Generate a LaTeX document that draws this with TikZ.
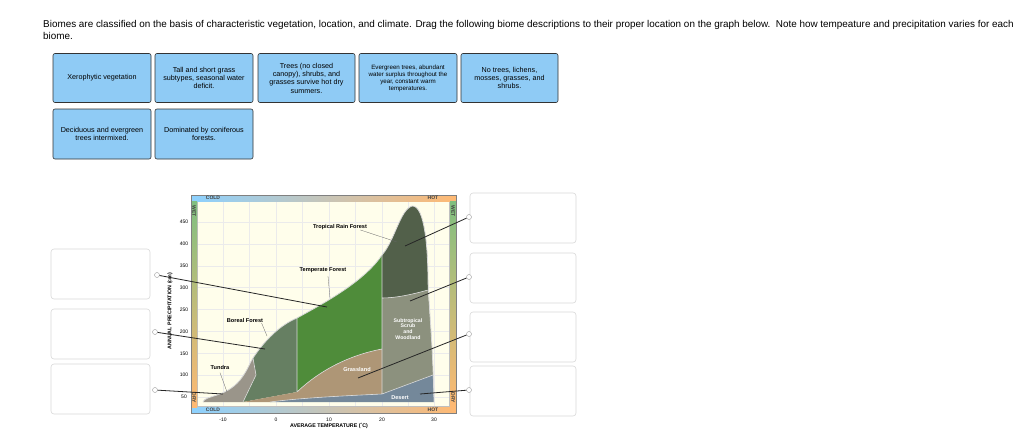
\documentclass[tikz,border=0pt]{standalone}
\usepackage{fontspec}
\setmainfont{Liberation Sans}
\usetikzlibrary{calc}
\begin{document}
\begin{tikzpicture}[x=1pt,y=-1pt,
 card/.style={draw=black!80,fill=cardblue,rounded corners=2pt,line width=0.6pt,align=center,font=\fontsize{7.2}{8.3}\selectfont,inner sep=1pt},
 drop/.style={draw=black!15,rounded corners=3pt,line width=0.6pt},
 pin/.style={draw=black!40,fill=white,circle,inner sep=0pt,minimum size=5pt},
 leader/.style={line width=0.8pt,draw=black!85},
 tick/.style={font=\fontsize{5}{6}\selectfont},
 flab/.style={font=\bfseries\fontsize{5}{6}\selectfont,black!75},
 blab/.style={font=\bfseries\fontsize{5.6}{6.5}\selectfont},
 thin/.style={draw=black!60,line width=0.3pt}]
\definecolor{cardblue}{HTML}{8FCBF5}
\definecolor{tun}{HTML}{9A958A}
\definecolor{bor}{HTML}{667F62}
\definecolor{tem}{HTML}{4F8C3A}
\definecolor{tro}{HTML}{52604A}
\definecolor{sub}{HTML}{8C917E}
\definecolor{gra}{HTML}{AE9676}
\definecolor{des}{HTML}{74889A}
\useasboundingbox (0,0) rectangle (1024,439);
\fill[white] (0,0) rectangle (1024,439);
\node[anchor=north west,align=left,font=\fontsize{9.9}{11.5}\selectfont,inner sep=0] (hdr) at (43,20.5) {Biomes are classified on the basis of characteristic vegetation, location, and climate. Drag the following biome descriptions to their proper location on the graph below.\ \ Note how tempeature and precipitation varies for each\\biome.};
% cards
\node[card,minimum width=98pt,minimum height=49pt] (c1) at (102,78) {Xerophytic vegetation};
\node[card,minimum width=98pt,minimum height=49pt] (c2) at (204,78) {Tall and short grass\\subtypes, seasonal water\\deficit.};
\node[card,minimum width=97pt,minimum height=49pt] (c3) at (306.5,78) {Trees (no closed\\canopy), shrubs, and\\grasses survive hot dry\\summers.};
\node[card,minimum width=98pt,minimum height=49pt,font=\fontsize{6.2}{7}\selectfont] (c4) at (408,78) {Evergreen trees, abundant\\water surplus throughout the\\year, constant warm\\temperatures.};
\node[card,minimum width=97pt,minimum height=49pt] (c5) at (509.5,78) {No trees, lichens,\\mosses, grasses, and\\shrubs.};
\node[card,minimum width=98pt,minimum height=50pt] (c6) at (102,134) {Deciduous and evergreen\\trees intermixed.};
\node[card,minimum width=98pt,minimum height=50pt] (c7) at (204,134) {Dominated by coniferous\\forests.};
% drop boxes
\draw[drop] (470,193) rectangle (576,243);
\draw[drop] (470,253) rectangle (576,303);
\draw[drop] (470,312) rectangle (576,362);
\draw[drop] (470,366) rectangle (576,416);
\draw[drop] (51,249) rectangle (150,299);
\draw[drop] (51,309) rectangle (150,359);
\draw[drop] (51,364) rectangle (150,414);
% frame
\fill[fill=black!25] (191,195) rectangle (456,413);
\shade[left color=blue!40!cyan!45, right color=orange!55] (191,195) rectangle (456,201);
\shade[left color=blue!40!cyan!45, right color=orange!55] (191,407) rectangle (456,413);
\shade[top color=green!50!black!50, bottom color=orange!55] (191,201) rectangle (197,407);
\shade[top color=green!50!black!50, bottom color=orange!55] (450,201) rectangle (456,407);
\draw[black!50,line width=0.4pt] (191,195) rectangle (456,413);
\fill[yellow!8] (198,202) rectangle (449,406);
\foreach \x in {223,249.5,276,302.5,329,355.5,382,408.5,434} \draw[black!8,line width=0.3pt] (\x,202)--(\x,406);
\foreach \y in {222,243.9,265.8,287.6,309.5,331.4,353.3,375.1,397} \draw[black!8,line width=0.3pt] (198,\y)--(449,\y);
% regions
\fill[tun] (203,402) .. controls (205,395) and (225,398) .. (240,380) .. controls (248,370) and (250,362) .. (253,358) -- (256,375) -- (243,402) -- cycle;
\fill[bor] (253,358) .. controls (265,340) and (280,325) .. (297,318) -- (297,392) -- (243,402) -- (256,375) -- cycle;
\fill[tem] (297,318) .. controls (330,300) and (365,280) .. (382,255) -- (382,349) .. controls (350,355) and (320,370) .. (297,392) -- cycle;
\fill[tro] (382,255) .. controls (395,240) and (400,210) .. (412,206) .. controls (425,205) and (428,250) .. (428,282) -- (428,290) .. controls (410,295) and (395,298) .. (382,298) -- cycle;
\fill[sub] (382,298) .. controls (395,298) and (410,295) .. (428,290) .. controls (430,320) and (433,350) .. (433,380) -- (382,394) -- cycle;
\fill[gra] (243,402) -- (297,392) .. controls (320,370) and (350,355) .. (382,349) -- (382,394) .. controls (340,396) and (300,398) .. (270,402) -- cycle;
\fill[des] (270,402) .. controls (300,398) and (340,396) .. (382,394) -- (433,375) -- (434,402) -- cycle;
\draw[white!85!black,line width=0.8pt] (203,402) .. controls (205,395) and (225,398) .. (240,380) .. controls (248,370) and (250,362) .. (253,358) .. controls (265,340) and (280,325) .. (297,318) .. controls (330,300) and (365,280) .. (382,255) .. controls (395,240) and (400,210) .. (412,206) .. controls (425,205) and (428,250) .. (428,282) .. controls (430,320) and (433,350) .. (434,402);
\draw[white!85!black,line width=0.6pt] (253,358) -- (256,375) -- (243,402) (297,318) -- (297,392) (382,255) -- (382,394) (382,298) .. controls (395,298) and (410,295) .. (428,290) (297,392) .. controls (320,370) and (350,355) .. (382,349) (270,402) .. controls (300,398) and (340,396) .. (382,394) -- (433,375);
% frame labels
\node[flab] (cold1) at (213,198) {COLD};
\node[flab] (hot1) at (433,198) {HOT};
\node[flab] (cold2) at (213,410) {COLD};
\node[flab] (hot2) at (433,410) {HOT};
\node[flab,rotate=-90] (wet1) at (194,211) {WET};
\node[flab,rotate=-90] (wet2) at (453,211) {WET};
\node[flab,rotate=-90] (dry1) at (194,398) {DRY};
\node[flab,rotate=-90] (dry2) at (453,398) {DRY};
\foreach \v/\y in {450/222,400/243.9,350/265.8,300/287.6,250/309.5,200/331.4,150/353.3,100/375.1,50/397} \node[tick] at (184,\y) {\v};
\foreach \v/\x in {-10/223,0/276,10/329,20/382,30/434} \node[tick] at (\x,420) {\v};
\node[font=\bfseries\fontsize{5.3}{6}\selectfont] (xl) at (329,425.5) {AVERAGE TEMPERATURE (˚C)};
\node[font=\bfseries\fontsize{5.3}{6}\selectfont,rotate=90] (yl) at (170,311) {ANNUAL PRECIPITATION (cm)};
% biome labels
\node[blab] (trf) at (340,227) {Tropical Rain Forest};
\node[blab] (tf) at (323,270) {Temperate Forest};
\node[blab] (bf) at (245,320) {Boreal Forest};
\node[blab] (tu) at (220,367) {Tundra};
\node[blab,white] (gr) at (357,369) {Grassland};
\node[blab,white,align=center,font=\bfseries\fontsize{5.2}{5.8}\selectfont] (ss) at (408,329) {Subtropical\\Scrub\\and\\Woodland};
\node[blab,white] (de) at (400,398) {Desert};
\draw[thin] (trf.east)+(-10,3) -- (397,242);
\draw[thin] (tf.south)+(5,0) -- (330,298);
\draw[thin] (bf.east)+(-5,3) -- (267,336);
\draw[thin] (tu.south) -- (227,392);
% leaders
\node[pin] (p1) at (469,217) {}; \coordinate (e1) at (405,246);
\node[pin] (p2) at (469,277) {}; \coordinate (e2) at (410,301);
\node[pin] (p3) at (469,334) {}; \coordinate (e3) at (358,378);
\node[pin] (p4) at (469,390) {}; \coordinate (e4) at (420,394);
\node[pin] (p5) at (157,275) {}; \coordinate (e5) at (327,307);
\node[pin] (p6) at (155,332) {}; \coordinate (e6) at (265,349);
\node[pin] (p7) at (155,390) {}; \coordinate (e7) at (223,394);
\foreach \i in {1,...,7} \draw[leader] (p\i) -- (e\i);
\end{tikzpicture}
\end{document}
